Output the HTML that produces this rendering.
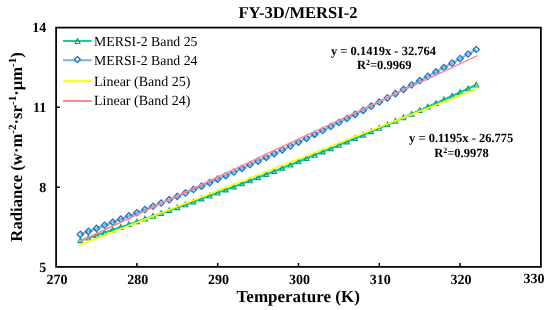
<!DOCTYPE html><html><head><meta charset="utf-8"><style>html,body{margin:0;padding:0;background:#fff;width:550px;height:310px;overflow:hidden}svg{display:block;text-rendering:geometricPrecision}</style></head><body><svg width="550" height="310" viewBox="0 0 550 310">
<rect width="550" height="310" fill="#fff"/>
<polyline points="80.34,240.48 88.42,237.87 96.50,235.23 104.58,232.57 112.66,229.89 120.74,227.18 128.82,224.45 136.90,221.69 144.98,218.92 153.06,216.11 161.14,213.29 169.22,210.44 177.30,207.56 185.38,204.66 193.46,201.74 201.54,198.80 209.62,195.83 217.70,192.84 225.78,189.82 233.86,186.78 241.94,183.72 250.02,180.63 258.10,177.52 266.18,174.39 274.26,171.23 282.34,168.05 290.42,164.85 298.50,161.62 306.58,158.37 314.66,155.10 322.74,151.81 330.82,148.49 338.90,145.15 346.98,141.78 355.06,138.39 363.14,134.98 371.22,131.55 379.30,128.09 387.38,124.62 395.46,121.11 403.54,117.59 411.62,114.04 419.70,110.47 427.78,106.88 435.86,103.27 443.94,99.63 452.02,95.97 460.10,92.29 468.18,88.58 476.26,84.86" fill="none" stroke="#08D0A2" stroke-width="2.2"/>
<polyline points="80.34,234.42 88.42,231.43 96.50,228.41 104.58,225.35 112.66,222.26 120.74,219.14 128.82,215.99 136.90,212.81 144.98,209.59 153.06,206.34 161.14,203.06 169.22,199.74 177.30,196.39 185.38,193.01 193.46,189.60 201.54,186.16 209.62,182.68 217.70,179.17 225.78,175.62 233.86,172.05 241.94,168.44 250.02,164.80 258.10,161.12 266.18,157.41 274.26,153.67 282.34,149.90 290.42,146.09 298.50,142.26 306.58,138.38 314.66,134.48 322.74,130.54 330.82,126.57 338.90,122.57 346.98,118.54 355.06,114.47 363.14,110.37 371.22,106.24 379.30,102.07 387.38,97.87 395.46,93.64 403.54,89.38 411.62,85.08 419.70,80.75 427.78,76.39 435.86,72.00 443.94,67.57 452.02,63.11 460.10,58.62 468.18,54.10 476.26,49.54" fill="none" stroke="#78B4E1" stroke-width="2.2"/>
<g fill="none" stroke="#0A9E72" stroke-width="1.1"><path d="M80.34,237.88L82.74,242.58L77.94,242.58Z"/><path d="M88.42,235.27L90.82,239.97L86.02,239.97Z"/><path d="M96.50,232.63L98.90,237.33L94.10,237.33Z"/><path d="M104.58,229.97L106.98,234.67L102.18,234.67Z"/><path d="M112.66,227.29L115.06,231.99L110.26,231.99Z"/><path d="M120.74,224.58L123.14,229.28L118.34,229.28Z"/><path d="M128.82,221.85L131.22,226.55L126.42,226.55Z"/><path d="M136.90,219.09L139.30,223.79L134.50,223.79Z"/><path d="M144.98,216.32L147.38,221.02L142.58,221.02Z"/><path d="M153.06,213.51L155.46,218.21L150.66,218.21Z"/><path d="M161.14,210.69L163.54,215.39L158.74,215.39Z"/><path d="M169.22,207.84L171.62,212.54L166.82,212.54Z"/><path d="M177.30,204.96L179.70,209.66L174.90,209.66Z"/><path d="M185.38,202.06L187.78,206.76L182.98,206.76Z"/><path d="M193.46,199.14L195.86,203.84L191.06,203.84Z"/><path d="M201.54,196.20L203.94,200.90L199.14,200.90Z"/><path d="M209.62,193.23L212.02,197.93L207.22,197.93Z"/><path d="M217.70,190.24L220.10,194.94L215.30,194.94Z"/><path d="M225.78,187.22L228.18,191.92L223.38,191.92Z"/><path d="M233.86,184.18L236.26,188.88L231.46,188.88Z"/><path d="M241.94,181.12L244.34,185.82L239.54,185.82Z"/><path d="M250.02,178.03L252.42,182.73L247.62,182.73Z"/><path d="M258.10,174.92L260.50,179.62L255.70,179.62Z"/><path d="M266.18,171.79L268.58,176.49L263.78,176.49Z"/><path d="M274.26,168.63L276.66,173.33L271.86,173.33Z"/><path d="M282.34,165.45L284.74,170.15L279.94,170.15Z"/><path d="M290.42,162.25L292.82,166.95L288.02,166.95Z"/><path d="M298.50,159.02L300.90,163.72L296.10,163.72Z"/><path d="M306.58,155.77L308.98,160.47L304.18,160.47Z"/><path d="M314.66,152.50L317.06,157.20L312.26,157.20Z"/><path d="M322.74,149.21L325.14,153.91L320.34,153.91Z"/><path d="M330.82,145.89L333.22,150.59L328.42,150.59Z"/><path d="M338.90,142.55L341.30,147.25L336.50,147.25Z"/><path d="M346.98,139.18L349.38,143.88L344.58,143.88Z"/><path d="M355.06,135.79L357.46,140.49L352.66,140.49Z"/><path d="M363.14,132.38L365.54,137.08L360.74,137.08Z"/><path d="M371.22,128.95L373.62,133.65L368.82,133.65Z"/><path d="M379.30,125.49L381.70,130.19L376.90,130.19Z"/><path d="M387.38,122.02L389.78,126.72L384.98,126.72Z"/><path d="M395.46,118.51L397.86,123.21L393.06,123.21Z"/><path d="M403.54,114.99L405.94,119.69L401.14,119.69Z"/><path d="M411.62,111.44L414.02,116.14L409.22,116.14Z"/><path d="M419.70,107.87L422.10,112.57L417.30,112.57Z"/><path d="M427.78,104.28L430.18,108.98L425.38,108.98Z"/><path d="M435.86,100.67L438.26,105.37L433.46,105.37Z"/><path d="M443.94,97.03L446.34,101.73L441.54,101.73Z"/><path d="M452.02,93.37L454.42,98.07L449.62,98.07Z"/><path d="M460.10,89.69L462.50,94.39L457.70,94.39Z"/><path d="M468.18,85.98L470.58,90.68L465.78,90.68Z"/><path d="M476.26,82.26L478.66,86.96L473.86,86.96Z"/></g>
<g fill="none" stroke="#1C70C4" stroke-width="1.3"><path d="M80.34,231.22L83.44,234.42L80.34,237.52L77.24,234.42Z"/><path d="M88.42,228.23L91.52,231.43L88.42,234.53L85.32,231.43Z"/><path d="M96.50,225.21L99.60,228.41L96.50,231.51L93.40,228.41Z"/><path d="M104.58,222.15L107.68,225.35L104.58,228.45L101.48,225.35Z"/><path d="M112.66,219.06L115.76,222.26L112.66,225.36L109.56,222.26Z"/><path d="M120.74,215.94L123.84,219.14L120.74,222.24L117.64,219.14Z"/><path d="M128.82,212.79L131.92,215.99L128.82,219.09L125.72,215.99Z"/><path d="M136.90,209.61L140.00,212.81L136.90,215.91L133.80,212.81Z"/><path d="M144.98,206.39L148.08,209.59L144.98,212.69L141.88,209.59Z"/><path d="M153.06,203.14L156.16,206.34L153.06,209.44L149.96,206.34Z"/><path d="M161.14,199.86L164.24,203.06L161.14,206.16L158.04,203.06Z"/><path d="M169.22,196.54L172.32,199.74L169.22,202.84L166.12,199.74Z"/><path d="M177.30,193.19L180.40,196.39L177.30,199.49L174.20,196.39Z"/><path d="M185.38,189.81L188.48,193.01L185.38,196.11L182.28,193.01Z"/><path d="M193.46,186.40L196.56,189.60L193.46,192.70L190.36,189.60Z"/><path d="M201.54,182.96L204.64,186.16L201.54,189.26L198.44,186.16Z"/><path d="M209.62,179.48L212.72,182.68L209.62,185.78L206.52,182.68Z"/><path d="M217.70,175.97L220.80,179.17L217.70,182.27L214.60,179.17Z"/><path d="M225.78,172.42L228.88,175.62L225.78,178.72L222.68,175.62Z"/><path d="M233.86,168.85L236.96,172.05L233.86,175.15L230.76,172.05Z"/><path d="M241.94,165.24L245.04,168.44L241.94,171.54L238.84,168.44Z"/><path d="M250.02,161.60L253.12,164.80L250.02,167.90L246.92,164.80Z"/><path d="M258.10,157.92L261.20,161.12L258.10,164.22L255.00,161.12Z"/><path d="M266.18,154.21L269.28,157.41L266.18,160.51L263.08,157.41Z"/><path d="M274.26,150.47L277.36,153.67L274.26,156.77L271.16,153.67Z"/><path d="M282.34,146.70L285.44,149.90L282.34,153.00L279.24,149.90Z"/><path d="M290.42,142.89L293.52,146.09L290.42,149.19L287.32,146.09Z"/><path d="M298.50,139.06L301.60,142.26L298.50,145.36L295.40,142.26Z"/><path d="M306.58,135.18L309.68,138.38L306.58,141.48L303.48,138.38Z"/><path d="M314.66,131.28L317.76,134.48L314.66,137.58L311.56,134.48Z"/><path d="M322.74,127.34L325.84,130.54L322.74,133.64L319.64,130.54Z"/><path d="M330.82,123.37L333.92,126.57L330.82,129.67L327.72,126.57Z"/><path d="M338.90,119.37L342.00,122.57L338.90,125.67L335.80,122.57Z"/><path d="M346.98,115.34L350.08,118.54L346.98,121.64L343.88,118.54Z"/><path d="M355.06,111.27L358.16,114.47L355.06,117.57L351.96,114.47Z"/><path d="M363.14,107.17L366.24,110.37L363.14,113.47L360.04,110.37Z"/><path d="M371.22,103.04L374.32,106.24L371.22,109.34L368.12,106.24Z"/><path d="M379.30,98.87L382.40,102.07L379.30,105.17L376.20,102.07Z"/><path d="M387.38,94.67L390.48,97.87L387.38,100.97L384.28,97.87Z"/><path d="M395.46,90.44L398.56,93.64L395.46,96.74L392.36,93.64Z"/><path d="M403.54,86.18L406.64,89.38L403.54,92.48L400.44,89.38Z"/><path d="M411.62,81.88L414.72,85.08L411.62,88.18L408.52,85.08Z"/><path d="M419.70,77.55L422.80,80.75L419.70,83.85L416.60,80.75Z"/><path d="M427.78,73.19L430.88,76.39L427.78,79.49L424.68,76.39Z"/><path d="M435.86,68.80L438.96,72.00L435.86,75.10L432.76,72.00Z"/><path d="M443.94,64.37L447.04,67.57L443.94,70.67L440.84,67.57Z"/><path d="M452.02,59.91L455.12,63.11L452.02,66.21L448.92,63.11Z"/><path d="M460.10,55.42L463.20,58.62L460.10,61.72L457.00,58.62Z"/><path d="M468.18,50.90L471.28,54.10L468.18,57.20L465.08,54.10Z"/><path d="M476.26,46.34L479.36,49.54L476.26,52.64L473.16,49.54Z"/></g>
<line x1="79.53" y1="245.06" x2="477.47" y2="88.57" stroke="#FFFF00" stroke-width="1.7"/>
<line x1="79.53" y1="241.46" x2="477.47" y2="55.64" stroke="#FF8890" stroke-width="1.6"/>
<rect x="56.10" y="27.60" width="484.80" height="239.30" fill="none" stroke="#000" stroke-width="1.75"/>
<path d="M136.90,266.90V263.10M217.70,266.90V263.10M298.50,266.90V263.10M379.30,266.90V263.10M460.10,266.90V263.10M56.10,187.13H59.90M56.10,107.37H59.90" stroke="#000" stroke-width="1.5"/>
<g font-family="Liberation Serif, serif" font-weight="bold" font-size="14"><text x="57.00" y="283.8" text-anchor="middle">270</text><text x="137.80" y="283.8" text-anchor="middle">280</text><text x="218.60" y="283.8" text-anchor="middle">290</text><text x="299.40" y="283.8" text-anchor="middle">300</text><text x="380.20" y="283.8" text-anchor="middle">310</text><text x="461.00" y="283.8" text-anchor="middle">320</text><text x="533.9" y="283" text-anchor="middle">330</text><text x="46.3" y="271.60" text-anchor="end">5</text><text x="46.3" y="191.83" text-anchor="end">8</text><text x="46.3" y="112.07" text-anchor="end">11</text><text x="46.3" y="32.30" text-anchor="end">14</text></g>
<text x="298" y="18.4" text-anchor="middle" font-family="Liberation Serif, serif" font-weight="bold" font-size="16.6">FY-3D/MERSI-2</text>
<text x="298.2" y="302.3" text-anchor="middle" font-family="Liberation Serif, serif" font-weight="bold" font-size="17">Temperature (K)</text>
<text transform="translate(21.5,146.9) rotate(-90)" text-anchor="middle" font-family="Liberation Serif, serif" font-weight="bold" font-size="16.7">Radiance (w·m<tspan dy="-5.4" font-size="11">-2</tspan><tspan dy="5.4">·sr</tspan><tspan dy="-5.4" font-size="11">-1</tspan><tspan dy="5.4">·μm</tspan><tspan dy="-5.4" font-size="11">-1</tspan><tspan dy="5.4">)</tspan></text>
<g font-family="Liberation Serif, serif" font-weight="bold" font-size="12.5" text-anchor="middle"><text x="383.5" y="54.8">y = 0.1419x - 32.764</text><text x="384.2" y="68.9">R<tspan font-size="8" dy="-3.7">2</tspan><tspan dy="3.7">=0.9969</tspan></text><text x="461.2" y="142">y = 0.1195x - 26.775</text><text x="461.4" y="156.7">R<tspan font-size="8" dy="-3.7">2</tspan><tspan dy="3.7">=0.9978</tspan></text></g>
<line x1="63" y1="40.95" x2="91.7" y2="40.95" stroke="#08D0A2" stroke-width="2.0"/><path d="M77.5,38.75L80.0,43.55L75.0,43.55Z" fill="none" stroke="#0A9E72" stroke-width="1.1"/><text x="94.0" y="46.0" font-family="Liberation Serif, serif" font-size="13.8">MERSI-2 Band 25</text><line x1="63" y1="60.25" x2="91.7" y2="60.25" stroke="#78B4E1" stroke-width="2.0"/><path d="M77.35,56.55L80.35,59.55L77.35,62.55L74.35,59.55Z" fill="#fff" fill-opacity="0.7" stroke="#1C70C4" stroke-width="1.3"/><text x="94.0" y="65.3" font-family="Liberation Serif, serif" font-size="13.8">MERSI-2 Band 24</text><line x1="63" y1="81.2" x2="91.7" y2="81.2" stroke="#FFFF00" stroke-width="2.0"/><text x="94.0" y="85.6" font-family="Liberation Serif, serif" font-size="14.0">Linear (Band 25)</text><line x1="63" y1="100.95" x2="91.7" y2="100.95" stroke="#FF8890" stroke-width="2.0"/><text x="94.0" y="105.4" font-family="Liberation Serif, serif" font-size="14.0">Linear (Band 24)</text>
</svg></body></html>
